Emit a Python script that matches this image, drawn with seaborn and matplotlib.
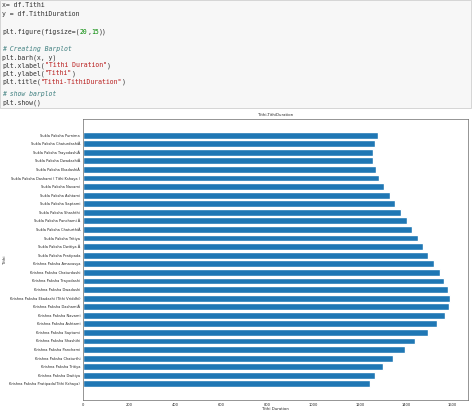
"""
Tithi duration barh chart, recreated from a notebook screenshot
"""

import matplotlib
matplotlib.use('Agg')
import matplotlib.pyplot as plt
import seaborn as sns
import pandas as pd
from matplotlib.patches import Rectangle

# Data (in dataframe order: first row is drawn at the bottom)
tithi = [
    'Krishna Paksha Pratipada(Tithi Kshaya)',
    'Krishna Paksha Dwitiya',
    'Krishna Paksha Tritiya',
    'Krishna Paksha Chaturthi',
    'Krishna Paksha Panchami',
    'Krishna Paksha Shashthi',
    'Krishna Paksha Saptami',
    'Krishna Paksha Ashtami',
    'Krishna Paksha Navami',
    'Krishna Paksha DashamiÂ',
    'Krishna Paksha Ekadashi (Tithi Vriddhi)',
    'Krishna Paksha Dwadashi',
    'Krishna Paksha Trayodashi',
    'Krishna Paksha Chaturdashi',
    'Krishna Paksha Amavasya',
    'Sukla Paksha Pratipada',
    'Sukla Paksha Dwitiya Â',
    'Sukla Paksha Tritiya',
    'Sukla Paksha ChaturthiÂ',
    'Sukla Paksha Panchami Â',
    'Sukla Paksha Shashthi',
    'Sukla Paksha Saptami',
    'Sukla Paksha Ashtami',
    'Sukla Paksha Navami',
    'Sukla Paksha Dashami ( Tithi Kshaya )',
    'Sukla Paksha EkadashiÂ',
    'Sukla Paksha DwadashiÂ',
    'Sukla Paksha TrayodashiÂ',
    'Sukla Paksha ChaturdashiÂ',
    'Sukla Paksha Purnima',
]
tithi_duration = [
    1244, 1266, 1302, 1345, 1394, 1438, 1496, 1536, 1568, 1585,
    1589, 1581, 1566, 1545, 1520, 1497, 1472, 1452, 1427, 1403,
    1378, 1354, 1329, 1306, 1284, 1268, 1258, 1257, 1264, 1280,
]

code_lines = [
    [('x= df.Tithi', '#333333', 'normal')],
    [('y = df.TithiDuration', '#333333', 'normal')],
    [('plt.figure(figsize=(', '#333333', 'normal'), ('20', '#008800', 'normal'),
     (',', '#333333', 'normal'), ('15', '#008800', 'normal'), ('))', '#333333', 'normal')],
    [('# Creating Barplot', '#408080', 'italic')],
    [('plt.barh(x, y)', '#333333', 'normal')],
    [('plt.xlabel(', '#333333', 'normal'), ('"Tithi Duration"', '#BA2121', 'normal'), (')', '#333333', 'normal')],
    [('plt.ylabel(', '#333333', 'normal'), ('"Tithi"', '#BA2121', 'normal'), (')', '#333333', 'normal')],
    [('plt.title(', '#333333', 'normal'), ('"Tithi-TithiDuration"', '#BA2121', 'normal'), (')', '#333333', 'normal')],
    [('# show barplot', '#408080', 'italic')],
    [('plt.show()', '#333333', 'normal')],
]
code_y_px = [4.7, 13.7, 32, 49.3, 57.3, 65.3, 73.3, 81.7, 94.3, 102.3]

sns.set_style("white")

W, H = 474, 412
fig = plt.figure(figsize=(W / 100, H / 100), dpi=100)
renderer = fig.canvas.get_renderer()

# Notebook code cell
fig.patches.append(Rectangle((0, 1 - 108 / H), 471 / W, 108 / H, transform=fig.transFigure,
                             facecolor='#f7f7f7', edgecolor='#cfcfcf', linewidth=0.6, zorder=0))
fs_code = 4.7
for segs, ypx in zip(code_lines, code_y_px):
    x = 2 / W
    for txt, col, style in segs:
        t = fig.text(x, 1 - ypx / H, txt, color=col, fontsize=fs_code, family='DejaVu Sans Mono',
                     style=style, va='center', ha='left')
        # place the next piece right after this one
        x += t.get_window_extent(renderer=renderer).width / W

# Bar chart
ax = fig.add_axes([83 / W, 12 / H, (468 - 83) / W, (400 - 119) / H])
df = pd.DataFrame({'Tithi': tithi, 'TithiDuration': tithi_duration})
sns.barplot(data=df, x='TithiDuration', y='Tithi', order=tithi[::-1], orient='h',
            color='#1f77b4', saturation=1, width=0.8, ax=ax)

n = len(tithi)
ax.set_ylim(n - 1 + 1.89, -1.89)
ax.set_xlim(0, max(tithi_duration) * 1.05)
ax.set_xticks(range(0, 1601, 200))
ax.tick_params(axis='both', labelsize=2.6, length=1, width=0.3, pad=1)
ax.set_xlabel('Tithi Duration', fontsize=2.8, labelpad=0.3)
ax.set_ylabel('Tithi', fontsize=2.8, labelpad=2)
ax.set_title('Tithi-TithiDuration', fontsize=2.8, pad=2)
for sp in ax.spines.values():
    sp.set_linewidth(0.4)
    sp.set_color('#444444')

fig.savefig('out.png', dpi=100)
plt.close(fig)
